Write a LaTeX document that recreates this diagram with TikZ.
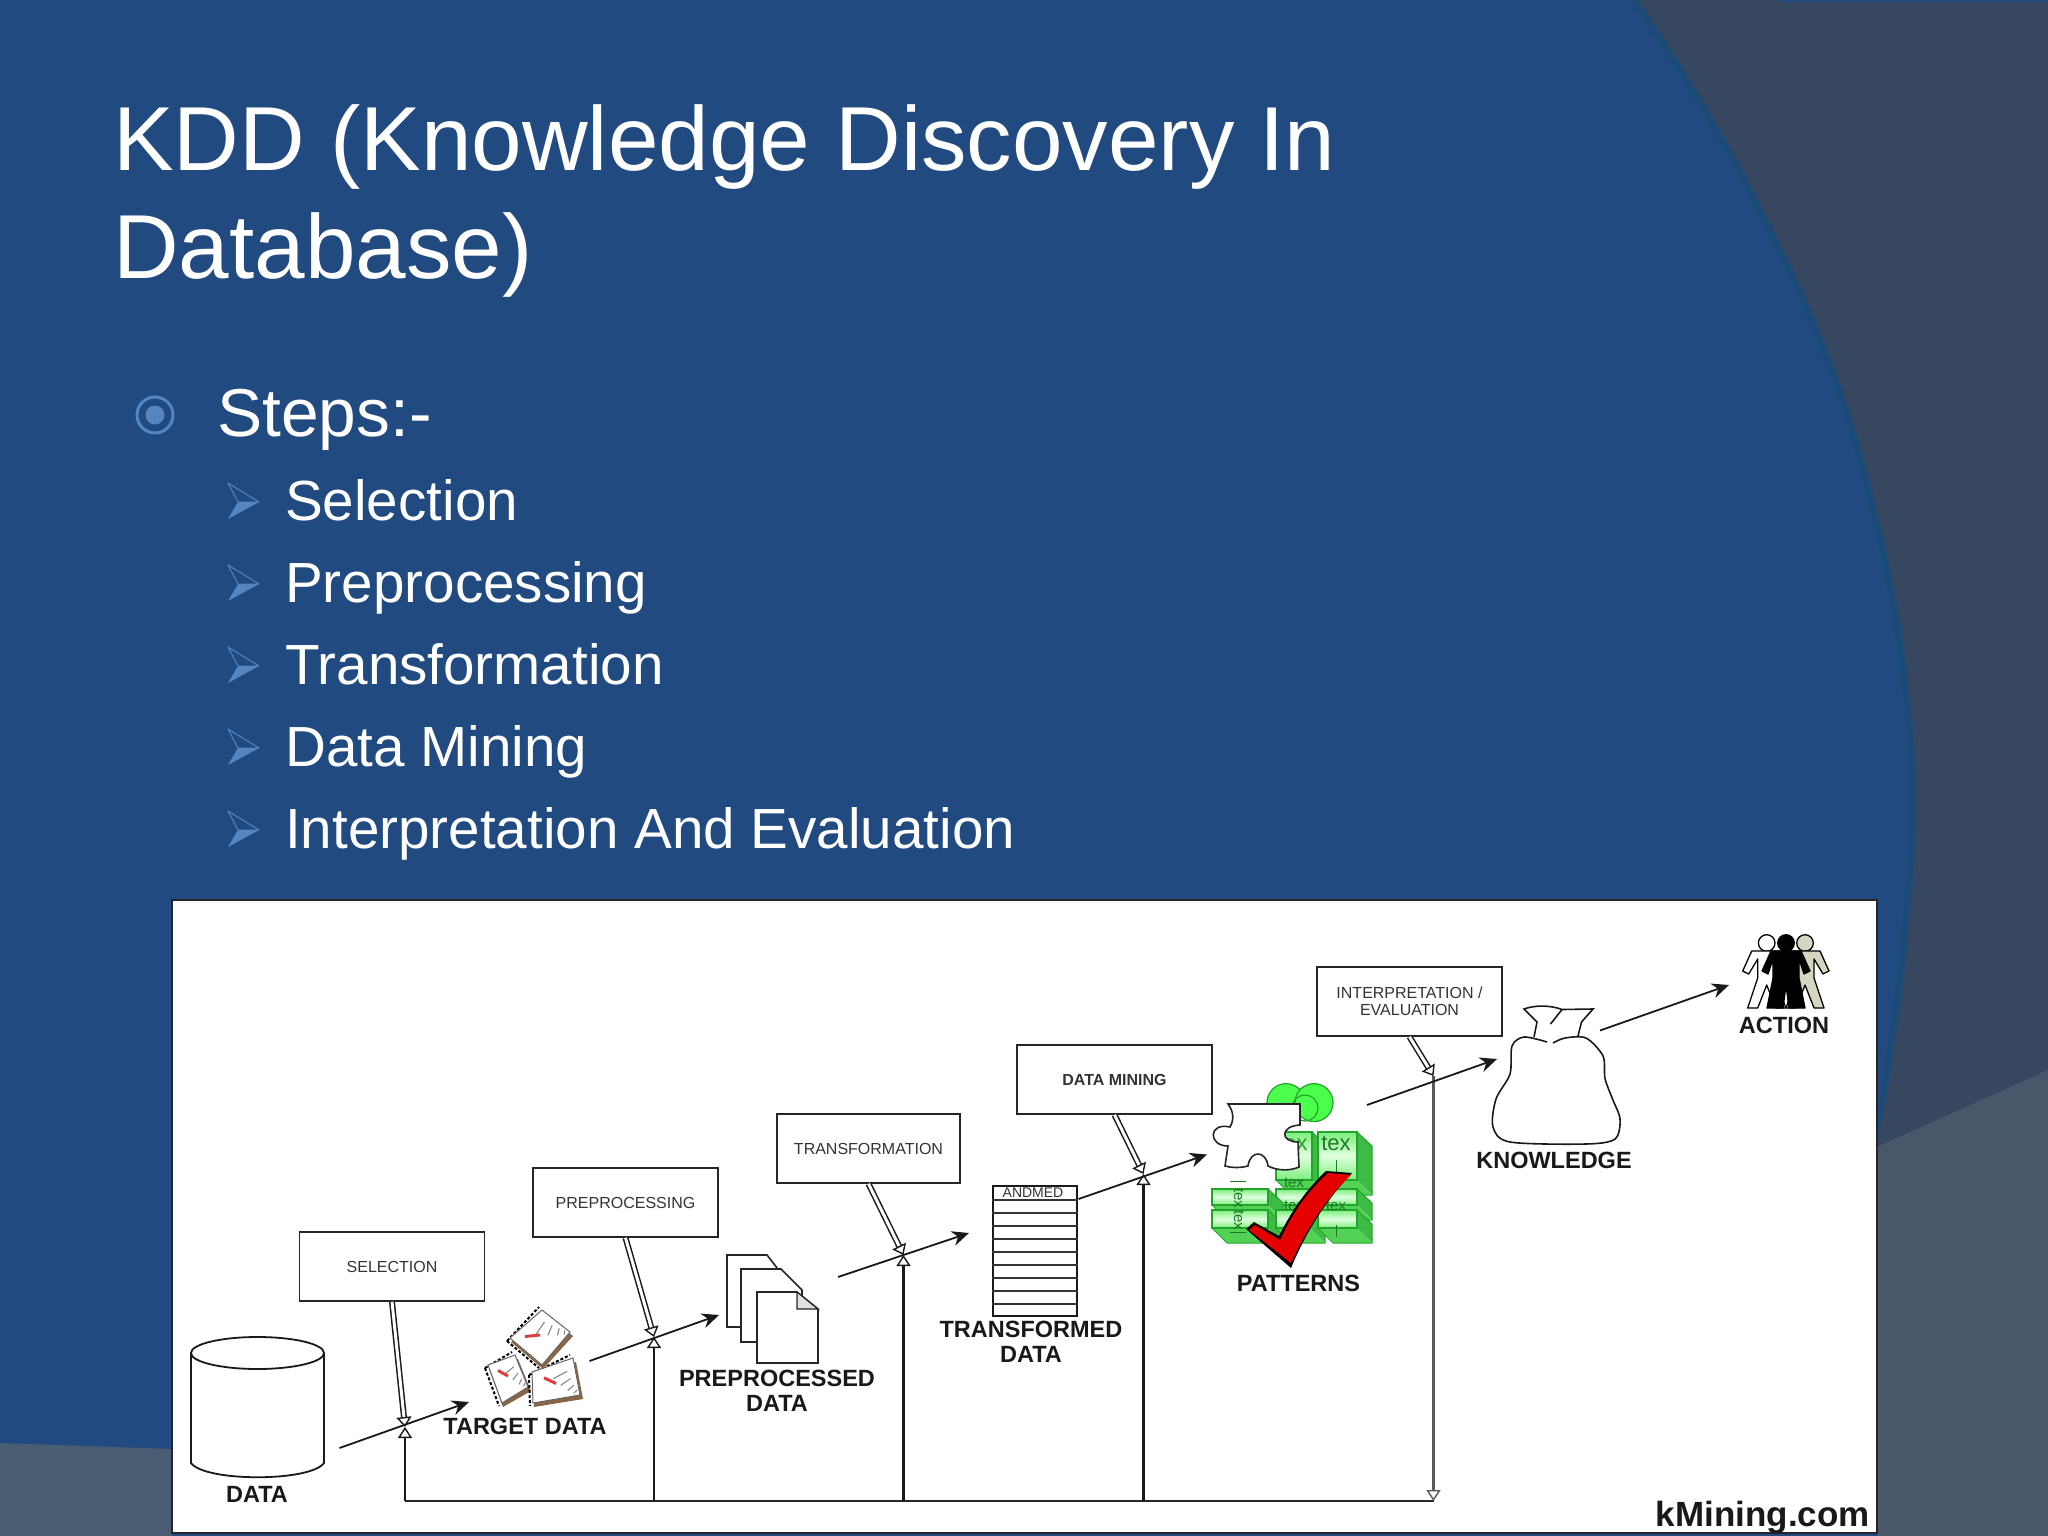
\documentclass[tikz,border=0pt]{standalone}
\usepackage{fontspec}
\setmainfont{Liberation Sans}
\usetikzlibrary{arrows.meta,calc,shapes.geometric}

\definecolor{slideblue}{HTML}{214A80}
\definecolor{slidedark}{HTML}{1A4A74}
\definecolor{cornertop}{HTML}{37475F}
\definecolor{cornerlow}{HTML}{48586A}
\definecolor{bandlow}{HTML}{4A5C72}
\definecolor{markblue}{HTML}{5584BE}
\definecolor{texgreen}{HTML}{22A52A}
\definecolor{texdark}{HTML}{1C7A24}
\definecolor{texside}{HTML}{3DBB45}
\definecolor{texfoot}{HTML}{52D155}
\definecolor{texlight}{HTML}{DFFFDF}
\definecolor{texedge}{HTML}{7CEE7C}
\definecolor{mantan}{HTML}{D5D5C0}

\tikzset{
    titletext/.style  = {anchor = base west, inner sep = 0, text = white, font = \fontsize{90.9}{108}\selectfont},
    topitem/.style    = {anchor = base west, inner sep = 0, text = white, font = \fontsize{67.7}{80}\selectfont},
    subitem/.style    = {anchor = base west, inner sep = 0, text = white, font = \fontsize{56.6}{66}\selectfont},
    stagebox/.style   = {draw = black!85, line width = 1.6pt, fill = white, inner sep = 0, text = black!80, align = center,
                         font = \fontsize{16}{17}\selectfont},
    thinghead/.style  = {inner sep = 0, text = black!90, align = center, font = \bfseries\fontsize{23.5}{24.8}\selectfont},
    flowline/.style   = {draw = black!90, line width = 1.8pt, -{Stealth[length = 17pt, width = 15pt]}},
    stageline/.style  = {draw = black!90, line width = 1.5pt, double = white, double distance = 3pt,
                         -{Triangle[open, fill = white, length = 10pt, width = 15pt, line width = 1.4pt]}},
    backline/.style   = {draw = black!90, line width = 2.2pt,
                         -{Triangle[open, fill = white, length = 11pt, width = 14pt, line width = 1.4pt]}},
    railline/.style   = {draw = black!85, line width = 2.2pt},
    bagline/.style    = {draw = black!90, line width = 1.6pt},
    texword/.style    = {inner sep = 0, text = texdark, font = \fontsize{15}{15}\selectfont}
}

% list marker of the sub items
\newcommand{\itemdart}[1]{
    \fill [markblue] (228,#1+17) -- (259,#1) -- (238,#1) -- cycle;
    \draw [markblue, line width = 1pt, line join = round] (228,#1-19) -- (259,#1) -- (238,#1) -- cycle;
}

% one green block of the patterns heap
\newcommand{\texblock}[4]{
    \fill [texside] (#3,#2) -- (#3+15,#2+14) -- (#3+15,#4+15) -- (#3,#4) -- cycle;
    \fill [texfoot] (#1,#4) -- (#3,#4) -- (#3+15,#4+15) -- (#1+15,#4+15) -- cycle;
    \draw [texgreen, line width = 1pt] (#3,#2) -- (#3+15,#2+14) -- (#3+15,#4+15) -- (#1+15,#4+15) -- (#1,#4);
    \draw [texgreen, line width = 1.2pt, top color = texedge, bottom color = texedge, middle color = texlight] (#1,#2) rectangle (#3,#4);
}

% one paper card of the target data heap
\newcommand{\clipcard}[4]{
    \draw [black, line width = 2pt, densely dashed] ($(#1)+(-3,3)$) -- ($(#2)+(-3,-3)$);
    \draw [black, line width = 2pt, densely dashed] ($(#1)+(-3,3)$) -- ($(#4)+(-3,3)$);
    \fill [brown!60!black!85] ($(#1)+(1,4)$) -- ($(#2)+(3,4)$) -- ($(#3)+(3,4)$) -- ($(#4)+(1,4)$) -- cycle;
    \draw [black!60, line width = 1pt, fill = white] (#1) -- (#2) -- (#3) -- (#4) -- cycle;
    \foreach \t in {.25,.45,.65,.82}
        \draw [black!50, line width = 1pt] ($(#1)!\t!(#4)!.3!(#2)!\t!(#3)$) -- ($(#1)!\t!(#4)!.75!(#2)!\t!(#3)$);
    \draw [red!70!white!85!black, line width = 3pt] ($(#1)!.25!(#3)$) -- ($(#1)!.5!(#3)$);
}

% one figure of the action group
\newcommand{\actionman}[4]{
    \begin{scope}[shift = {(#1,943)}]
        \draw [black, line width = 1.3pt, fill = #2] (0,0) circle (8.3);
        \draw [black, line width = 1.3pt, fill = #2, line join = round]
            (-15,8) -- (15,8) -- (24,28) -- (18,31) -- (#4,16) -- (#4,35) -- (19,65) -- (#3,65) -- (0,42)
            -- (-#3,65) -- (-19,65) -- (-#4,35) -- (-#4,16) -- (-18,31) -- (-24,28) -- cycle;
    \end{scope}
}

\begin{document}
\begin{tikzpicture}[x = 1pt, y = -1pt]
    \useasboundingbox (0,0) rectangle (2048,1536);

    % slide background
    \fill [slideblue] (0,0) rectangle (2048,1536);
    \fill [cornertop] (1638,0) .. controls (1725,125) and (1806,280) .. (1846,400)
                      .. controls (1884,514) and (1916,670) .. (1916,800)
                      .. controls (1916,910) and (1896,1050) .. (1877,1147)
                      -- (2048,1070) -- (2048,0) -- cycle;
    \draw [slidedark, line width = 6pt, opacity = .8] (1634,0) .. controls (1721,125) and (1802,280) .. (1842,400)
                      .. controls (1880,514) and (1912,670) .. (1912,800)
                      .. controls (1912,910) and (1892,1050) .. (1873,1147);
    \fill [slideblue] (1780,0) rectangle (2048,2);
    \fill [cornerlow] (1877,1147) -- (2048,1070) -- (2048,1536) -- (1877,1536) -- cycle;
    \fill [bandlow]   (0,1443) -- (172,1449) -- (172,1536) -- (0,1536) -- cycle;

    % title and list
    \node [titletext] (titlea) at (113,170) {KDD (Knowledge Discovery In};
    \node [titletext] (titleb) at (113,278) {Database)};

    \draw [markblue, line width = 3pt] (155,415) circle (18);
    \fill [markblue]                   (155,415) circle (9.5);
    \node [topitem] (steps) at (217,436) {Steps:-};

    \itemdart{502} \itemdart{584} \itemdart{666} \itemdart{748} \itemdart{830}
    \node [subitem] (itema) at (285,520) {Selection};
    \node [subitem] (itemb) at (285,602) {Preprocessing};
    \node [subitem] (itemc) at (285,684) {Transformation};
    \node [subitem] (itemd) at (285,766) {Data Mining};
    \node [subitem] (iteme) at (285,848) {Interpretation And Evaluation};

    % white panel of the process
    \draw [draw = black!85, line width = 1.6pt, fill = white] (172,900) rectangle (1877,1533);

    % stage boxes
    \node [stagebox, minimum width = 185pt, minimum height = 69pt] (selbox)  at (392,1266.5)  {SELECTION};
    \node [stagebox, minimum width = 185pt, minimum height = 69pt] (prebox)  at (625.5,1202.5) {PREPROCESSING};
    \node [stagebox, minimum width = 183pt, minimum height = 69pt] (trabox)  at (868.5,1148.5) {TRANSFORMATION};
    \node [stagebox, minimum width = 195pt, minimum height = 69pt] (minbox)  at (1114.5,1079.5) {\textbf{DATA MINING}};
    \node [stagebox, minimum width = 185pt, minimum height = 69pt] (intbox)  at (1409.5,1001.5)
        {INTERPRETATION /\\EVALUATION};

    % data store
    \draw [draw = black!90, line width = 1.8pt, fill = white] (191,1354) -- (191,1463)
        .. controls (205,1482) and (310,1482) .. (324,1463) -- (324,1354);
    \draw [draw = black!90, line width = 1.8pt, fill = white] (257.5,1353) ellipse (66.5 and 16);
    \node [thinghead] (datahead) at (257,1494) {DATA};

    % target data heap
    \coordinate (cla) at (488,1365); \coordinate (clb) at (515,1355);
    \coordinate (clc) at (528,1387); \coordinate (cld) at (502,1403);
    \coordinate (cra) at (532,1372); \coordinate (crb) at (573,1358);
    \coordinate (crc) at (580,1395); \coordinate (crd) at (533,1403);
    \coordinate (cta) at (542,1310); \coordinate (ctb) at (570,1332);
    \coordinate (ctc) at (542,1365); \coordinate (ctd) at (510,1338);
    \clipcard{cla}{clb}{clc}{cld}
    \clipcard{cra}{crb}{crc}{crd}
    \clipcard{ctd}{cta}{ctb}{ctc}
    \node [thinghead] (targethead) at (525,1426) {TARGET DATA};

    % preprocessed pages
    \draw [draw = black!85, line width = 1.6pt, fill = white] (727,1255) -- (767,1255) -- (788,1282) -- (788,1327) -- (727,1327) -- cycle;
    \draw [draw = black!85, line width = 1.6pt, fill = white] (741,1269) -- (781,1269) -- (802,1290) -- (802,1342) -- (741,1342) -- cycle;
    \draw [draw = black!85, line width = 1.6pt, fill = white] (757,1292) -- (797,1292) -- (818,1309) -- (818,1363) -- (757,1363) -- cycle;
    \draw [draw = black!85, line width = 1.3pt, fill = black!12] (797,1292) -- (797,1309) -- (818,1309) -- cycle;
    \node [thinghead] (prephead) at (777,1390.5) {PREPROCESSED\\DATA};

    % transformed table
    \node [draw = black!90, line width = 1.7pt, fill = white, inner sep = 0, minimum width = 84pt, minimum height = 130pt]
        (tabdata) at (1035,1251) {};
    \foreach \rowy in {1200,1213,1226,1239,1252,1265,1278,1291,1304}
        \draw [black!80, line width = 1.5pt] (tabdata.west |- 0,\rowy) -- (tabdata.east |- 0,\rowy);
    \node [inner sep = 0, text = black!80, font = \fontsize{14}{14}\selectfont] (tabword) at (1033,1192.5) {ANDMED};
    \node [thinghead] (tranhead) at (1031,1342) {TRANSFORMED\\DATA};

    % patterns heap
    \draw [texgreen, line width = 1.2pt, fill = green!70!white] (1286,1102.6) circle (19);
    \draw [texgreen, line width = 1.2pt, fill = green!70!white] (1314,1102.6) circle (19);
    \draw [texgreen, line width = 1.2pt] (1305,1108) circle (13);
    \texblock{1276}{1132}{1312}{1180}
    \texblock{1318}{1132}{1357}{1180}
    \texblock{1276}{1189}{1310}{1205}
    \texblock{1318}{1189}{1357}{1205}
    \texblock{1212}{1189}{1268}{1205}
    \texblock{1212}{1210}{1268}{1228}
    \texblock{1276}{1210}{1310}{1228}
    \texblock{1318}{1210}{1357}{1228}
    \node [texword, text = texgreen, font = \fontsize{22}{22}\selectfont] (texa) at (1293,1143) {tex};
    \node [texword, text = texdark, font = \fontsize{22}{22}\selectfont] (texb) at (1336,1143) {tex};
    \node [texword] (texc) at (1294,1183) {tex};
    \node [texword] (texd) at (1294,1206) {tex};
    \node [texword] (texe) at (1336,1206) {tex};
    \node [texword, rotate = 270] (texf) at (1239,1198) {tex};
    \node [texword, rotate = 270] (texg) at (1239,1220) {tex};
    \draw [texdark, line width = 1pt] (1336,1160) -- (1336,1172);
    \draw [texdark, line width = 1pt] (1336,1225) -- (1336,1237);
    \draw [texdark, line width = 1pt] (1230,1181) -- (1246,1181);
    \draw [texdark, line width = 1pt] (1230,1232) -- (1246,1232);

    % puzzle piece
    \draw [draw = black!85, line width = 1.6pt, fill = white]
        (1228,1104) -- (1300,1104) -- (1300,1125)
        .. controls (1280,1126) and (1280,1142) .. (1298,1142) -- (1299,1167)
        .. controls (1290,1171) and (1278,1171) .. (1268,1166)
        .. controls (1266,1150) and (1250,1150) .. (1248,1166)
        .. controls (1240,1168) and (1232,1168) .. (1225,1166) -- (1228,1146)
        .. controls (1208,1146) and (1208,1122) .. (1230,1127)
        .. controls (1234,1120) and (1234,1112) .. (1228,1104) -- cycle;

    % check mark
    \fill [black] (1246,1229) -- (1254,1222) -- (1279,1236) .. controls (1293,1208) and (1308,1188) .. (1326,1171)
        -- (1352,1173) .. controls (1326,1200) and (1306,1232) .. (1291,1268) -- cycle;
    \fill [red!90!black] (1249,1230) -- (1255,1225) -- (1280,1240) .. controls (1294,1210) and (1309,1190) .. (1328,1173)
        -- (1351,1175) .. controls (1326,1198) and (1306,1230) .. (1291,1263) -- cycle;
    \node [thinghead] (pathead) at (1298.5,1283) {PATTERNS};

    % knowledge bag
    \draw [bagline] (1534,1037) -- (1537,1022) -- (1524,1009) .. controls (1535,1005) and (1550,1005) .. (1562,1009.5)
        -- (1593,1009) -- (1581.5,1022) -- (1578,1036);
    \draw [bagline] (1562,1009.5) -- (1550.5,1024);
    \draw [bagline] plot [smooth] coordinates {
        (1553,1043) (1565,1038) (1586,1038) (1603,1056) (1605,1078.5) (1612.5,1099) (1620,1119) (1615,1139)
        (1586,1144) (1510,1142) (1493,1127) (1496,1099) (1510,1074) (1512,1046) (1524,1037) (1547,1042)};
    \node [thinghead] (knowhead) at (1554,1160.5) {KNOWLEDGE};

    % action group
    \actionman{1766.7}{white}{9}{9}
    \actionman{1805}{mantan}{9}{9}
    \actionman{1786}{black}{3}{13}
    \node [thinghead] (acthead) at (1784,1025) {ACTION};

    \node [anchor = base east, inner sep = 0, text = black!90, font = \bfseries\fontsize{35}{35}\selectfont] (brand) at (1870,1526) {kMining.com};

    % junctions, ends of the flow and of the rail
    \coordinate (cutsel) at (405,1427);
    \coordinate (cutpre) at (654,1337);
    \coordinate (cuttra) at (903.5,1255);
    \coordinate (cutmin) at (1143.5,1174);
    \coordinate (cutint) at (1433.5,1076);

    \coordinate (railsel) at (405,1501);
    \coordinate (railpre) at (654,1501);
    \coordinate (railtra) at (903.5,1501);
    \coordinate (railmin) at (1143.5,1501);
    \coordinate (railint) at (1433.5,1501);

    \coordinate (taila) at (339.5,1448); \coordinate (tipa) at (469,1402);
    \coordinate (tailb) at (589.5,1361); \coordinate (tipb) at (719,1315);
    \coordinate (tailc) at (838,1277);   \coordinate (tipc) at (969,1233);
    \coordinate (taild) at (1078.5,1199);\coordinate (tipd) at (1207,1154.5);
    \coordinate (taile) at (1367,1105);  \coordinate (tipe) at (1497,1059);
    \coordinate (tailf) at (1600,1030.5);\coordinate (tipf) at (1729,985);

    % rail and its feeders
    \draw [railline] (railsel) -- (railint);
    \draw [backline] (railsel) -- (cutsel);
    \draw [backline] (railpre) -- (cutpre);
    \draw [backline] (railtra) -- (cuttra);
    \draw [backline] (railmin) -- (cutmin);
    \draw [backline, draw = black!65] (cutint) -- (railint);

    % stage connectors
    \draw [stageline] (selbox.south) -- (cutsel);
    \draw [stageline] (prebox.south) -- (cutpre);
    \draw [stageline] (trabox.south) -- (cuttra);
    \draw [stageline] (minbox.south) -- (cutmin);
    \draw [stageline] (intbox.south) -- (cutint);

    % process flow
    \draw [flowline] (taila) -- (tipa);
    \draw [flowline] (tailb) -- (tipb);
    \draw [flowline] (tailc) -- (tipc);
    \draw [flowline] (taild) -- (tipd);
    \draw [flowline] (taile) -- (tipe);
    \draw [flowline] (tailf) -- (tipf);
\end{tikzpicture}
\end{document}
